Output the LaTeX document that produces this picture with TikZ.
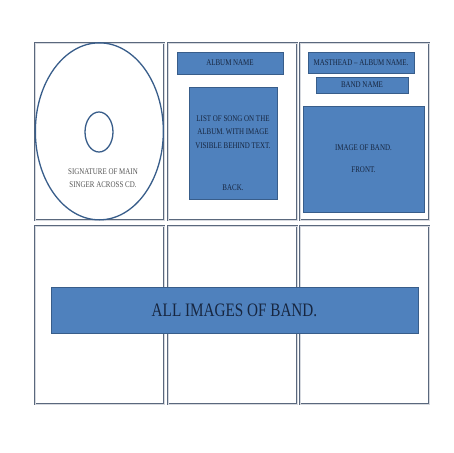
\documentclass[tikz,border=0pt]{standalone}
\usepackage{fontspec}
\setmainfont{Liberation Serif}[FakeStretch=0.8]
\usepackage{tikz}
\usetikzlibrary{positioning}
\definecolor{panelline}{HTML}{5A687D}
\definecolor{boxfill}{HTML}{4F81BD}
\definecolor{boxline}{HTML}{385D8A}
\definecolor{boxtext}{HTML}{172640}
\definecolor{greytext}{HTML}{555555}
\tikzset{%
  panel/.style={rectangle, draw=panelline, line width=0.7pt, double=white!75!panelline, double distance=0.6pt, minimum width=129pt, minimum height=177pt, inner sep=0pt},
  bluebox/.style={rectangle, draw=boxline, line width=1pt, fill=boxfill, text=boxtext, inner sep=0pt, font=\fontsize{8.7}{13.5}\selectfont, align=center}
}

\begin{document}
\begin{tikzpicture}[x=1pt,y=-1pt]
  \useasboundingbox[fill=white] (0,0) rectangle (453,453);

  % panels
  \node[panel, anchor=north west] (cd) at (34.5,42.5) {};
  \node[panel, right=3.5pt of cd] (back) {};
  \node[panel, right=2.5pt of back] (front) {};
  \node[panel, below=5.5pt of cd, minimum height=178pt] (low1) {};
  \node[panel, right=3.5pt of low1, minimum height=178pt] (low2) {};
  \node[panel, right=2.5pt of low2, minimum height=178pt] (low3) {};

  % cd
  \draw[boxline, line width=1.3pt] (cd.center) ellipse (64pt and 88.5pt);
  \node[circle, draw=boxline, line width=1.3pt, minimum width=28pt, yscale=1.43] (hole) at (99,132) {};
  \node[text=greytext, align=center, font=\fontsize{8.7}{13.5}\selectfont] (sig) at (103,178) {SIGNATURE OF MAIN\\SINGER ACROSS CD.};

  % back
  \node[bluebox, minimum width=106pt, minimum height=22pt] (album) at (230,63) {ALBUM NAME};
  \node[bluebox, minimum width=88pt, minimum height=112pt] (songs) at (233,143) {};
  \node[text=boxtext, align=center, font=\fontsize{8.7}{13.5}\selectfont] (list) at (233,132) {LIST OF SONG ON THE\\ALBUM. WITH IMAGE\\VISIBLE BEHIND TEXT.};
  \node[text=boxtext, font=\fontsize{8.7}{13.5}\selectfont] (backlbl) at (233,188) {BACK.};

  % front
  \node[bluebox, minimum width=106pt, minimum height=21pt] (mast) at (361,62.5) {MASTHEAD -- ALBUM NAME.};
  \node[bluebox, minimum width=92pt, minimum height=16pt] (band) at (362,85) {BAND NAME};
  \node[bluebox, minimum width=121pt, minimum height=106pt] (photo) at (363.5,159) {IMAGE OF BAND.\\[8.5pt]FRONT.};

  % strip across the lower panels
  \node[bluebox, minimum width=367pt, minimum height=46pt, font=\fontsize{19}{22}\selectfont] (all) at (234.5,310) {ALL IMAGES OF BAND.};
\end{tikzpicture}
\end{document}
